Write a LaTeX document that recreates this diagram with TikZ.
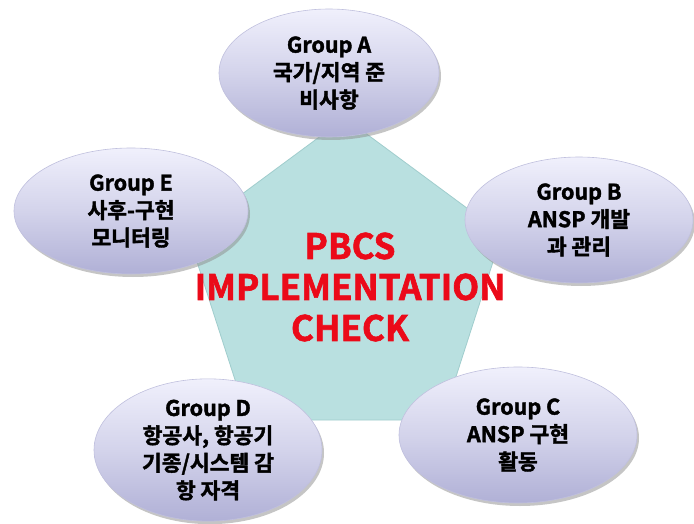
\documentclass[tikz,border=0pt]{standalone}
\usepackage{fontspec}
\setmainfont{Noto Sans CJK KR}[BoldFont={* Bold}, BoldFeatures={FakeBold=1.8}]
\usetikzlibrary{shadows,shapes.geometric}
\definecolor{penta}{RGB}{185,224,224}
\definecolor{pentaedge}{RGB}{160,205,205}
\definecolor{lavtop}{RGB}{240,240,252}
\definecolor{lavbot}{RGB}{176,176,214}
\definecolor{redtxt}{RGB}{235,10,25}
\tikzset{
  grp/.style={ellipse, minimum width=#1, inner sep=0pt,
    top color=lavtop, bottom color=lavbot, middle color=lavtop!55!lavbot,
    draw=lavbot!80!white, line width=0.6pt,
    drop shadow={shadow xshift=2pt, shadow yshift=-3pt, fill=black!45, opacity=0.5},
    align=center, font=\fontsize{21.5}{27.5}\selectfont\bfseries, text=black},
  center/.style={align=center, font=\fontsize{35}{41}\selectfont\bfseries, text=redtxt}
}
\begin{document}
\begin{tikzpicture}[x=1pt,y=-1pt]
\useasboundingbox (0,0) rectangle (694,524);
\fill[white] (0,0) rectangle (694,524);
% pentagon
\coordinate (p1) at (345,118);
\coordinate (p2) at (502,234);
\coordinate (p3) at (442,420);
\coordinate (p4) at (248,420);
\coordinate (p5) at (188,234);
\fill[penta, draw=pentaedge, line width=0.8pt, rounded corners=6pt]
  (p1) -- (p2) -- (p3) -- (p4) -- (p5) -- cycle;
\node[center] (mid) at (350,287) {PBCS\\IMPLEMENTATION\\CHECK};
% groups
\node[grp=220pt, minimum height=128pt] (A) at (329,73) {Group A\\국가/지역 준\\비사항};
\node[grp=228pt, minimum height=126pt] (B) at (579,220) {Group B\\ANSP 개발\\과 관리};
\node[grp=238pt, minimum height=136pt] (C) at (518,435) {Group C\\ANSP 구현\\활동};
\node[grp=228pt, minimum height=128pt] (D) at (208,450) {Group D\\항공사, 항공기\\기종/시스템 감\\항 자격};
\node[grp=234pt, minimum height=126pt] (E) at (131,211) {Group E\\사후-구현\\모니터링};
\end{tikzpicture}
\end{document}
